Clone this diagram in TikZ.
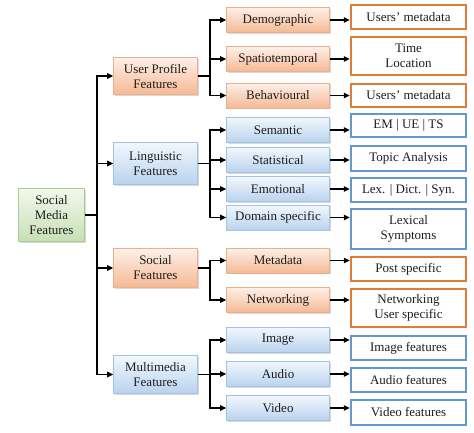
\documentclass[tikz,border=0pt]{standalone}
\usepackage{fontspec}
\setmainfont{Liberation Serif}
\usetikzlibrary{arrows.meta,shadows}
\definecolor{orL}{HTML}{FDF0E8}
\definecolor{orD}{HTML}{F5B994}
\definecolor{orB}{HTML}{EBB08C}
\definecolor{blL}{HTML}{F2F7FD}
\definecolor{blD}{HTML}{B9D3EE}
\definecolor{blB}{HTML}{A3C3E4}
\definecolor{grL}{HTML}{F2F8EC}
\definecolor{grD}{HTML}{C6E0B5}
\definecolor{grB}{HTML}{A9CC92}
\definecolor{orT}{HTML}{E07B39}
\definecolor{blT}{HTML}{6498CC}
\definecolor{txt}{HTML}{1E1E1E}
\tikzset{
  base/.style={rectangle, align=center, text=txt, inner sep=1pt,
    font=\fontsize{13}{15}\selectfont},
  gbox/.style={base, line width=0.6pt,
    drop shadow={shadow xshift=1.2pt, shadow yshift=-1.2pt, opacity=0.25, fill=black!60}},
  obox/.style={gbox, draw=orB, top color=orL, bottom color=orD},
  bbox/.style={gbox, draw=blB, top color=blL, bottom color=blD},
  grbox/.style={gbox, draw=grB, top color=grL, bottom color=grD},
  lone/.style={minimum width=84pt},
  ltwo/.style={minimum width=103pt, minimum height=25pt},
  ot/.style={base, draw=orT, fill=white, line width=2.5pt, minimum width=115pt},
  bt/.style={base, draw=blT, fill=white, line width=2.5pt, minimum width=115pt},
  arr/.style={draw=black, line width=1.1pt, -{Triangle[length=6pt,width=5.5pt]}},
}
\begin{document}
\begin{tikzpicture}[x=1pt,y=-1pt]
\useasboundingbox (0,0) rectangle (474,432);
% root
\node[grbox, minimum width=66pt, minimum height=53pt] (root) at (51.5,215) {Social\\Media\\Features};
% level 1
\node[obox, lone, minimum height=37pt] (up) at (155.5,76) {User Profile\\Features};
\node[bbox, lone, minimum height=42pt] (ling) at (155.5,163.5) {Linguistic\\Features};
\node[obox, lone, minimum height=39pt] (soc) at (155.5,268) {Social\\Features};
\node[bbox, lone, minimum height=38pt] (mm) at (155.5,374.5) {Multimedia\\Features};
% level 2
\node[obox, ltwo] (dem) at (278,20) {Demographic};
\node[obox, ltwo] (spa) at (278,59) {Spatiotemporal};
\node[obox, ltwo] (beh) at (278,95.5) {Behavioural};
\node[bbox, ltwo] (sem) at (278,130) {Semantic};
\node[bbox, ltwo] (stat) at (278,160) {Statistical};
\node[bbox, ltwo] (emo) at (278,189) {Emotional};
\node[bbox, ltwo] (dom) at (278,217.5) {Domain specific};
\node[obox, ltwo] (meta) at (278,260.5) {Metadata};
\node[obox, ltwo] (net) at (278,300) {Networking};
\node[bbox, ltwo] (img) at (278,340) {Image};
\node[bbox, ltwo] (aud) at (278,374) {Audio};
\node[bbox, ltwo] (vid) at (278,408) {Video};
% level 3
\node[ot, minimum height=24pt] (um1) at (408.5,17) {Users’ metadata};
\node[ot, minimum height=38pt] (tl) at (408.5,56) {Time\\Location};
\node[ot, minimum height=23pt] (um2) at (408.5,95.5) {Users’ metadata};
\node[bt, minimum height=23pt] (em) at (408.5,125.5) {EM | UE | TS};
\node[bt, minimum height=25pt] (topic) at (408.5,158.5) {Topic Analysis};
\node[bt, minimum height=24pt] (lex) at (408.5,190) {Lex. | Dict. | Syn.};
\node[bt, minimum height=40pt] (lexs) at (408.5,229) {Lexical\\Symptoms};
\node[ot, minimum height=24pt] (post) at (408.5,269) {Post specific};
\node[ot, minimum height=38pt] (netu) at (408.5,308) {Networking\\User specific};
\node[bt, minimum height=24pt] (imgf) at (408.5,348) {Image features};
\node[bt, minimum height=24pt] (audf) at (408.5,380) {Audio features};
\node[bt, minimum height=25pt] (vidf) at (408.5,412.5) {Video features};
% trunks
\coordinate (t1) at (97,215);
\coordinate (t2) at (210,0);
\foreach \c in {up,ling,soc,mm}
  \draw[arr] (root.east) -- (t1) |- (\c.west);
\foreach \c in {dem,spa,beh}
  \draw[arr] (up.east) -- (up.east -| t2) |- (\c.west);
\foreach \c in {sem,stat,emo,dom}
  \draw[arr] (ling.east) -- (ling.east -| t2) |- (\c.west);
\foreach \c in {meta,net}
  \draw[arr] (soc.east) -- (soc.east -| t2) |- (\c.west);
\foreach \c in {img,aud,vid}
  \draw[arr] (mm.east) -- (mm.east -| t2) |- (\c.west);
% level 2 -> level 3
\foreach \a/\b in {dem/um1,spa/tl,beh/um2,sem/em,stat/topic,emo/lex,dom/lexs,meta/post,net/netu,img/imgf,aud/audf,vid/vidf}
  \draw[arr] (\a.east) -- (\a.east -| \b.west);
\end{tikzpicture}
\end{document}
